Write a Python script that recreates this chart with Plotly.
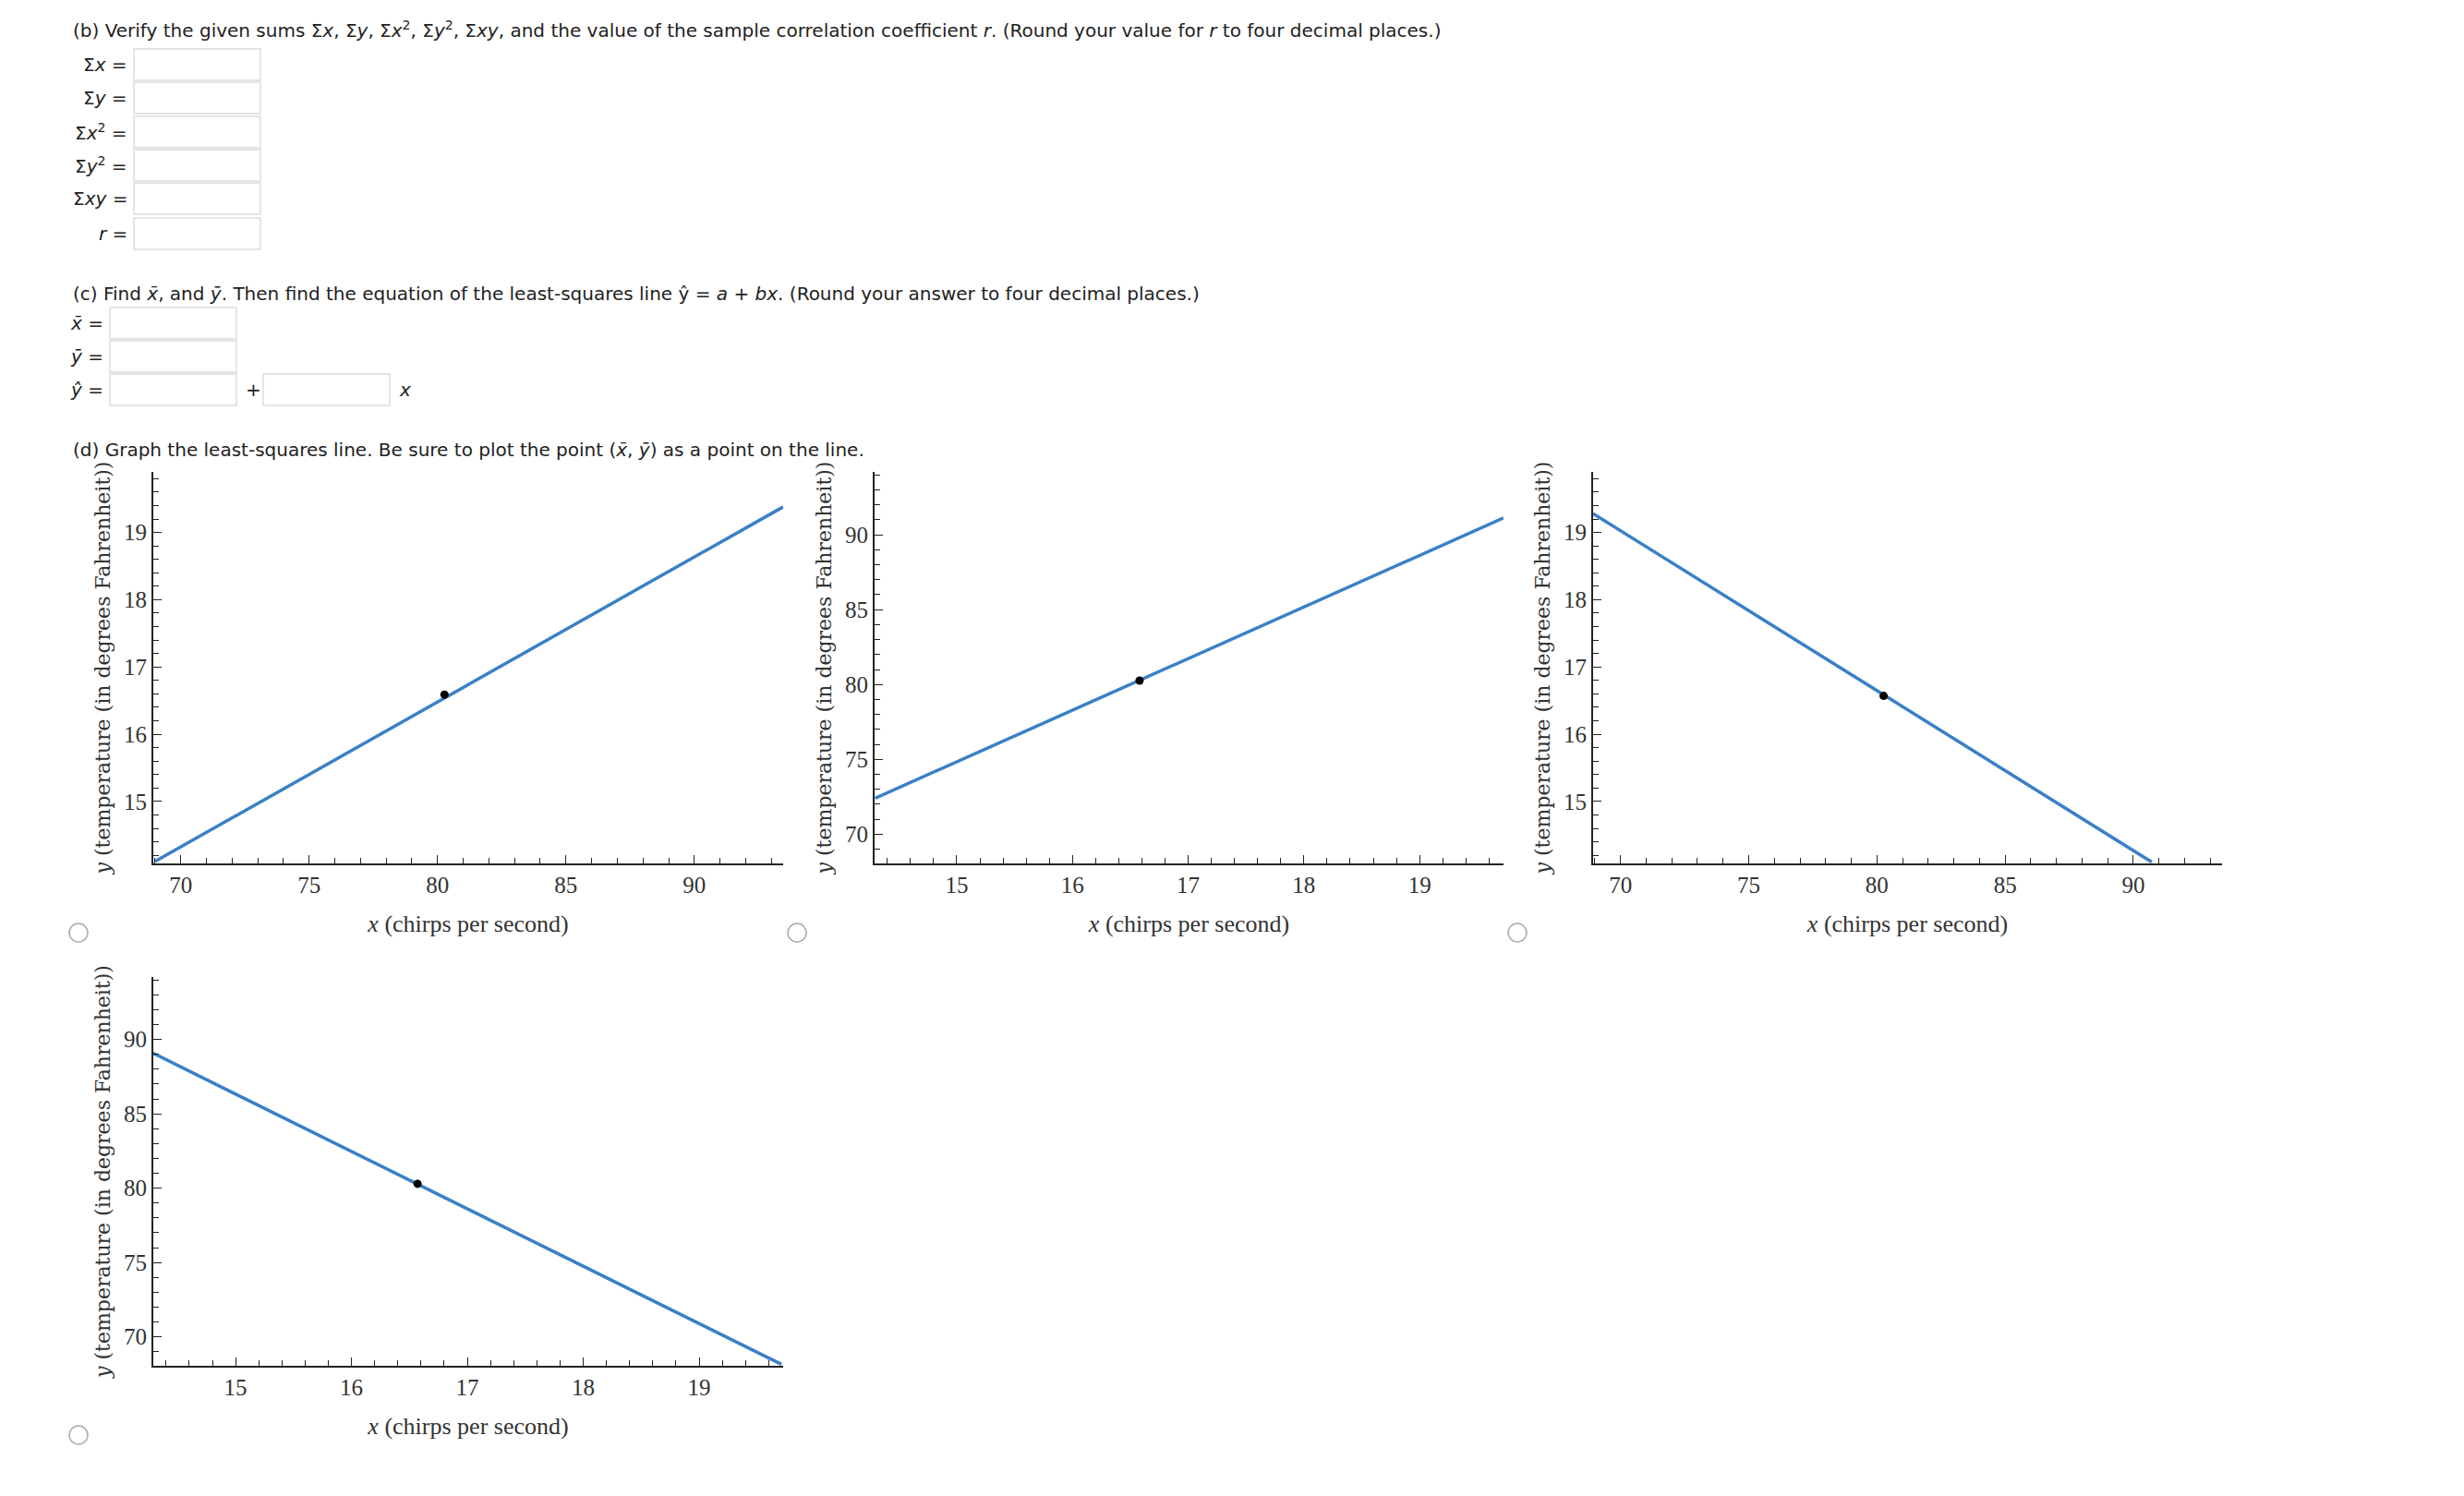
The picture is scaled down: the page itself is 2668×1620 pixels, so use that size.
import plotly.graph_objects as go

# Panel data (line endpoints + mean point)
p1_x = [69.0, 93.46]; p1_y = [14.11, 19.38]; p1_pt = (80.27, 16.59)
p2_x = [14.295, 19.725]; p2_y = [72.41, 91.12]; p2_pt = (16.58, 80.26)
p3_x = [68.93, 90.72]; p3_y = [19.28, 14.10]; p3_pt = (80.26, 16.57)
p4_x = [14.287, 19.71]; p4_y = [89.08, 68.15]; p4_pt = (16.57, 80.29)

temp_xrange = [68.93, 93.46]; chirp_yrange = [14.08, 19.9]
chirp_xrange = [14.29, 19.725]; temp_yrange = [68.05, 94.2]

panels = [
    (p1_x, p1_y, p1_pt, temp_xrange, chirp_yrange, 5, 1, 1, 0.2),
    (p2_x, p2_y, p2_pt, chirp_xrange, temp_yrange, 1, 0.2, 5, 1),
    (p3_x, p3_y, p3_pt, temp_xrange, chirp_yrange, 5, 1, 1, 0.2),
    (p4_x, p4_y, p4_pt, chirp_xrange, temp_yrange, 1, 0.2, 5, 1),
]
W, H = 2668, 1620
DX, DY = -10, -10  # page offset correction (px)
def xd(a, b): return [(a + DX) / W, (b + DX) / W]
def yd(top, bot): return [1 - (bot + DY) / H, 1 - (top + DY) / H]
xdoms = [xd(168, 850), xd(949, 1630), xd(1727, 2408), xd(168, 850)]
ydoms = [yd(513, 937)] * 3 + [yd(1060, 1481)]

fig = go.Figure()
blue = "#3a80c6"
serif = "Liberation Serif"
for i, (lx, ly, pt, xr, yr, xdt, xm, ydt, ym) in enumerate(panels):
    n = "" if i == 0 else str(i + 1)
    fig.add_trace(go.Scatter(x=lx, y=ly, mode="lines", line=dict(color=blue, width=3.5),
                             xaxis="x" + n, yaxis="y" + n, showlegend=False, hoverinfo="skip"))
    fig.add_trace(go.Scatter(x=[pt[0]], y=[pt[1]], mode="markers", marker=dict(color="black", size=9),
                             xaxis="x" + n, yaxis="y" + n, showlegend=False))
    common = dict(showgrid=False, zeroline=False, showline=True, linecolor="#222", linewidth=2,
                  ticks="inside", ticklen=9, tickcolor="#222", tickfont=dict(family=serif, size=25, color="#333"),
                  mirror=False)
    fig.layout["xaxis" + n] = dict(common, domain=xdoms[i], range=xr, anchor="y" + n, dtick=xdt,
                                   minor=dict(ticks="inside", ticklen=6, dtick=xm, tickcolor="#222"),
                                   title=dict(text="<i>x</i> (chirps per second)", font=dict(family=serif, size=26, color="#333"), standoff=20))
    fig.layout["yaxis" + n] = dict(common, domain=ydoms[i], range=yr, anchor="x" + n, dtick=ydt,
                                   minor=dict(ticks="inside", ticklen=6, dtick=ym, tickcolor="#222"),
                                   title=dict(text="<i>y</i> (temperature (in degrees Fahrenheit))", font=dict(family="DejaVu Serif", size=22, color="#333"), standoff=8))

ann = []
shapes = []
txt = dict(family="DejaVu Sans", size=20, color="#222")
def T(x, y, s, anchor="left"):
    ann.append(dict(x=(x + DX) / W, y=1 - (y + DY) / H, xref="paper", yref="paper", text=s, showarrow=False,
                    xanchor=anchor, yanchor="middle", font=txt))
def box(x0, x1, yc):
    shapes.append(dict(type="rect", xref="paper", yref="paper", x0=(x0 + DX) / W, x1=(x1 + DX) / W,
                       y0=1 - (yc + 17 + DY) / H, y1=1 - (yc - 17 + DY) / H, line=dict(color="#ddd", width=1.5)))

T(79, 34, "(b) Verify the given sums Σ<i>x</i>, Σ<i>y</i>, Σ<i>x</i><sup>2</sup>, Σ<i>y</i><sup>2</sup>, Σ<i>xy</i>, and the value of the sample correlation coefficient <i>r</i>. (Round your value for <i>r</i> to four decimal places.)")
labels = ["Σ<i>x</i> =", "Σ<i>y</i> =", "Σ<i>x</i><sup>2</sup> =", "Σ<i>y</i><sup>2</sup> =", "Σ<i>xy</i> =", "<i>r</i> ="]
rows = [72, 108, 145, 181, 217, 255]
for l, r in zip(labels, rows):
    T(142, r, l, "right"); box(147, 284, r)
T(79, 320, "(c) Find <i>x̄</i>, and <i>ȳ</i>. Then find the equation of the least-squares line ŷ = <i>a</i> + <i>bx</i>. (Round your answer to four decimal places.)")
T(116, 352, "<i>x̄</i> =", "right"); box(121, 258, 352)
T(116, 388, "<i>ȳ</i> =", "right"); box(121, 258, 388)
T(116, 424, "<i>ŷ</i> =", "right"); box(121, 258, 424)
T(266, 424, "+"); box(287, 424, 424); T(432, 424, "<i>x</i>")
T(79, 489, "(d) Graph the least-squares line. Be sure to plot the point (<i>x̄</i>, <i>ȳ</i>) as a point on the line.")
for cx, cy in [(87, 1012), (865, 1012), (1645, 1012), (87, 1556)]:
    shapes.append(dict(type="circle", xref="paper", yref="paper", x0=(cx - 10 + DX) / W, x1=(cx + 10 + DX) / W,
                       y0=1 - (cy + 10 + DY) / H, y1=1 - (cy - 10 + DY) / H, line=dict(color="#aaa", width=1.5)))

fig.update_layout(width=W, height=H, margin=dict(l=0, r=0, t=0, b=0), plot_bgcolor="white",
                  paper_bgcolor="white", annotations=ann, shapes=shapes)
fig.write_html("out.html")
